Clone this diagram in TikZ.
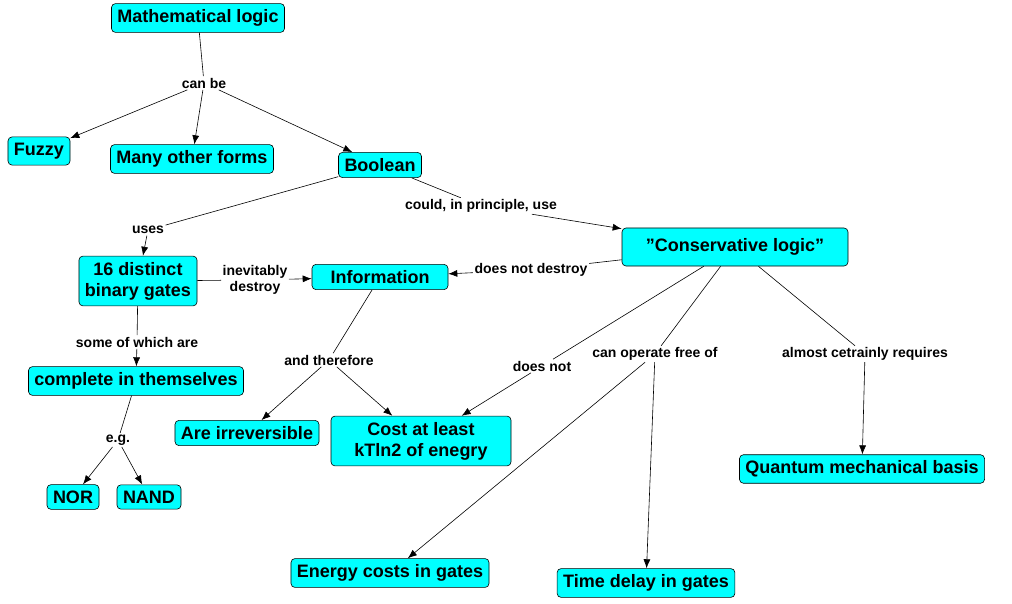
\documentclass[tikz,border=0pt]{standalone}
\usepackage{fontspec}
\setmainfont{Liberation Sans}
\usetikzlibrary{arrows.meta,positioning}
\definecolor{conceptfill}{RGB}{0,255,255}
\tikzset{
	cstconcept/.style ={fill=conceptfill,draw=black,rounded corners=4pt,line width=0.6pt,
		font=\bfseries\fontsize{18}{21}\selectfont,inner sep=6pt,align=center},
	cstlink/.style    ={fill=white,inner sep=1.5pt,font=\bfseries\fontsize{14}{16}\selectfont,align=center},
	cstra/.style      ={-{Latex[length=9pt,width=7pt]},line width=0.6pt},
	cstline/.style    ={line width=0.6pt}
}
\begin{document}
\begin{tikzpicture}[x=1pt,y=-1pt]
	\useasboundingbox (0,0) rectangle (1012,604);
	% concepts
	\node[cstconcept] (logic) at (198,18) {Mathematical logic};
	\node[cstconcept] (fuzzy) at (39,151) {Fuzzy};
	\node[cstconcept] (many) at (192,159) {Many other forms};
	\node[cstconcept] (bool) at (380,165) {Boolean};
	\node[cstconcept,minimum width=226pt,minimum height=38pt] (cons) at (735,247) {\symbol{34}Conservative logic\symbol{34}};
	\node[cstconcept] (gates) at (138,281) {16 distinct\\binary gates};
	\node[cstconcept,minimum width=136pt] (info) at (380,277) {Information};
	\node[cstconcept] (compl) at (136,381) {complete in themselves};
	\node[cstconcept] (irrev) at (247,433) {Are irreversible};
	\node[cstconcept,minimum width=180pt] (cost) at (421,441) {Cost at least\\kTln2 of enegry};
	\node[cstconcept] (nor) at (73,497) {NOR};
	\node[cstconcept] (nand) at (149,497) {NAND};
	\node[cstconcept] (quant) at (862,469) {Quantum mechanical basis};
	\node[cstconcept] (energy) at (390,573) {Energy costs in gates};
	\node[cstconcept] (delay) at (646,583) {Time delay in gates};
	% links
	\node[cstlink] (canbe) at (204,83) {can be};
	\node[cstlink] (uses) at (148,230) {uses};
	\node[cstlink] (could) at (481,206) {could, in principle, use};
	\node[cstlink] (destroy) at (255,280) {inevitably\\destroy};
	\node[cstlink] (notdestroy) at (531,270) {does not destroy};
	\node[cstlink] (some) at (137,342) {some of which are};
	\node[cstlink] (therefore) at (329,360) {and therefore};
	\node[cstlink] (doesnot) at (542,366) {does not};
	\node[cstlink] (operate) at (655,354) {can operate free of};
	\node[cstlink] (requires) at (865,354) {almost cetrainly requires};
	\node[cstlink] (eg) at (118,440) {e.g.};
	% connectors
	\draw[cstline] (logic) -- (canbe);
	\foreach \t in {fuzzy,many,bool} \draw[cstra] (canbe) -- (\t);
	\draw[cstline] (bool) -- (uses);
	\draw[cstra] (uses) -- (gates);
	\draw[cstline] (bool) -- (could);
	\draw[cstra] (could) -- (cons);
	\draw[cstline] (gates) -- (destroy);
	\draw[cstra] (destroy) -- (info);
	\draw[cstline] (cons) -- (notdestroy);
	\draw[cstra] (notdestroy) -- (info);
	\draw[cstline] (gates) -- (some);
	\draw[cstra] (some) -- (compl);
	\draw[cstline] (compl) -- (eg);
	\foreach \t in {nor,nand} \draw[cstra] (eg) -- (\t);
	\draw[cstline] (info) -- (therefore);
	\foreach \t in {irrev,cost} \draw[cstra] (therefore) -- (\t);
	\draw[cstline] (cons) -- (doesnot);
	\draw[cstra] (doesnot) -- (cost);
	\draw[cstline] (cons) -- (operate);
	\foreach \t in {energy,delay} \draw[cstra] (operate) -- (\t);
	\draw[cstline] (cons) -- (requires);
	\draw[cstra] (requires) -- (quant);
\end{tikzpicture}
\end{document}
